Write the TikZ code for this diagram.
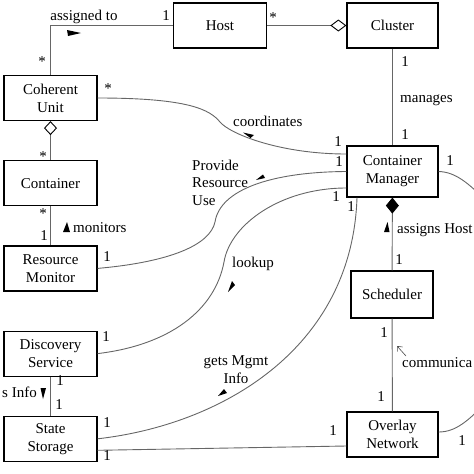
\documentclass[tikz,border=0pt]{standalone}
\usepackage{fontspec}
\setmainfont{Liberation Serif}
\usetikzlibrary{arrows.meta,positioning}

\begin{document}
\begin{tikzpicture}[
		  x=1pt, y=-1pt, node distance=39pt, >=Latex,
		  box/.style={draw, line width=1.2pt, align=center, minimum width=93pt, minimum height=45pt, inner sep=2pt, font=\fontsize{15}{18}\selectfont},
		  link/.style={draw=black!60, line width=0.9pt},
		  mult/.style={inner sep=0pt, font=\fontsize{15}{18}\selectfont},
		  lbl/.style={inner sep=0pt, font=\fontsize{15}{17.5}\selectfont},
		  navtip/.style={fill=black}
		]
		\clip (0,0) rectangle (474,474);
		\node[box] (d_host) at (220,25.5) {Host};
		\node[box, minimum width=91pt] (d_cluster) at (392.5,25.5) {Cluster};
		\node[box] (d_cohunit) at (50.5,98) {Coherent\\Unit};
		\node[box, below=of d_cohunit] (d_container) {Container};
		\node[box, below=of d_container] (d_resmon) {Resource\\Monitor};
		\node[box, below=of d_resmon] (d_discov) {Discovery\\Service};
		\node[box, below=of d_discov] (d_state) {State\\Storage};
		\node[box, minimum width=91pt, minimum height=51pt] (d_cmgr) at (392.5,171.5) {Container\\Manager};
		\node[box, minimum width=82pt, minimum height=47pt] (d_sched) at (392,294.5) {Scheduler};
		\node[box, minimum width=91pt] (d_overlay) at (392.5,434.5) {Overlay\\Network};
		
		\draw[link] (d_host.west) -| (d_cohunit.north);
		\draw[link, -{Diamond[open, color=black, length=16pt, width=12pt]}] (d_host) -- (d_cluster);
		\draw[link, {Diamond[open, color=black, length=14pt, width=13pt]}-] (d_cohunit) -- (d_container);
		\draw[link] (d_container) -- (d_resmon);
		\draw[link] (d_discov) -- (d_state);
		\draw[link] (d_cluster) -- (d_cmgr);
		\draw[link, {Diamond[color=black, length=16pt, width=13pt]}-] (d_cmgr) -- (d_sched);
		\draw[link] (d_sched) -- (d_overlay);
		\draw[link] ([yshift=-11.5pt]d_state.east) -- ([yshift=-11.5pt]d_overlay.west);
		\draw[link] (d_cohunit.east) .. controls (190,98) and (210,110) .. (220,122) .. controls (230,134) and (280,154) .. ([yshift=17.5pt]d_cmgr.west);
		\draw[link] (d_resmon.east) .. controls (170,262) and (210,245) .. (215,222) .. controls (220,190) and (270,172) .. (d_cmgr.west);
		\draw[link] (d_discov.east) .. controls (170,345) and (215,310) .. (224,262) .. controls (230,225) and (280,188) .. ([yshift=-16.5pt]d_cmgr.west);
		\draw[link] (d_state.east) .. controls (220,425) and (352,350) .. ([xshift=-35.5pt]d_cmgr.south);
		\coordinate (edge_cm) at (490,205);
		\coordinate (edge_ov) at (490,398);
		\draw[link] (d_cmgr.east) .. controls (455,172) and (468,182) .. (edge_cm);
		\draw[link] ([yshift=2.5pt]d_overlay.east) .. controls (455,432) and (468,422) .. (edge_ov);
		\coordinate (comm_a) at (406,356);
		\coordinate (comm_b) at (397,346);
		\draw[black!70, line width=0.6pt, -{Straight Barb[length=4pt, width=7pt]}] (comm_a) -- (comm_b);
		
		% reading direction marks
		\fill[navtip] (67,30) -- (81,33) -- (68,36) -- cycle;
		\fill[navtip] (243,132.5) -- (254,135) -- (250.5,138) -- cycle;
		\fill[navtip] (256,180) -- (263,174.5) -- (265,178) -- cycle;
		\fill[navtip] (228,292) -- (232,281) -- (235,285) -- cycle;
		\fill[navtip] (218,396) -- (224,389) -- (227,393) -- cycle;
		\fill[navtip] (63,232) -- (67,222) -- (70,232) -- cycle;
		\fill[navtip] (384,232) -- (387.5,222) -- (389.5,232) -- cycle;
		\fill[navtip] (40.5,388) -- (46,388) -- (43,399) -- cycle;
		
		\node[lbl, anchor=base] (t_assigned) at (84,20) {assigned to};
		\node[lbl, anchor=base west] (t_manages) at (400,102) {manages};
		\node[lbl, anchor=base west] (t_coord) at (233,126) {coordinates};
		\node[lbl, anchor=base west, align=left] (t_provide) at (192,205) {Provide\\Resource\\Use};
		\node[lbl, anchor=base west] (t_lookup) at (232,267) {lookup};
		\node[lbl, anchor=base, align=center] (t_mgmt) at (236,383) {gets Mgmt\\Info};
		\node[lbl, anchor=base west] (t_monitors) at (73,232) {monitors};
		\node[lbl, anchor=base west] (t_assigns) at (397,233) {assigns Host};
		\node[lbl, anchor=base west] (t_comm) at (402,367) {communica};
		\node[lbl, anchor=base east] (t_info) at (37,397) {s Info};
		
		% multiplicities
		\node[mult] (m_host_l) at (166,15.5) {1};
		\node[mult] (m_host_r) at (273,18) {*};
		\node[mult] (m_cu_top) at (42,62) {*};
		\node[mult] (m_cu_right) at (108,89) {*};
		\node[mult] (m_cont_top) at (43,157) {*};
		\node[mult] (m_cont_bot) at (43,214) {*};
		\node[mult] (m_rm_top) at (44,236) {1};
		\node[mult] (m_cl_bot) at (405,62) {1};
		\node[mult] (m_cm_top) at (405,135) {1};
		\node[mult] (m_cm_coord) at (338,142) {1};
		\node[mult] (m_cm_prov) at (339,162) {1};
		\node[mult] (m_cm_look) at (336,197) {1};
		\node[mult] (m_cm_mgmt) at (351,207) {1};
		\node[mult] (m_cm_right) at (450,161) {1};
		\node[mult] (m_sc_top) at (399,260) {1};
		\node[mult] (m_sc_bot) at (384,333) {1};
		\node[mult] (m_ov_top) at (381,397) {1};
		\node[mult] (m_rm_right) at (107,257) {1};
		\node[mult] (m_ds_right) at (106,337) {1};
		\node[mult] (m_ds_bot) at (60,381) {1};
		\node[mult] (m_ss_top) at (59,405) {1};
		\node[mult] (m_ss_mgmt) at (107,423) {1};
		\node[mult] (m_ss_ov) at (107,456) {1};
		\node[mult] (m_ov_left) at (333,431) {1};
		\node[mult] (m_ov_right) at (462,441) {1};
		\end{tikzpicture}
\end{document}
